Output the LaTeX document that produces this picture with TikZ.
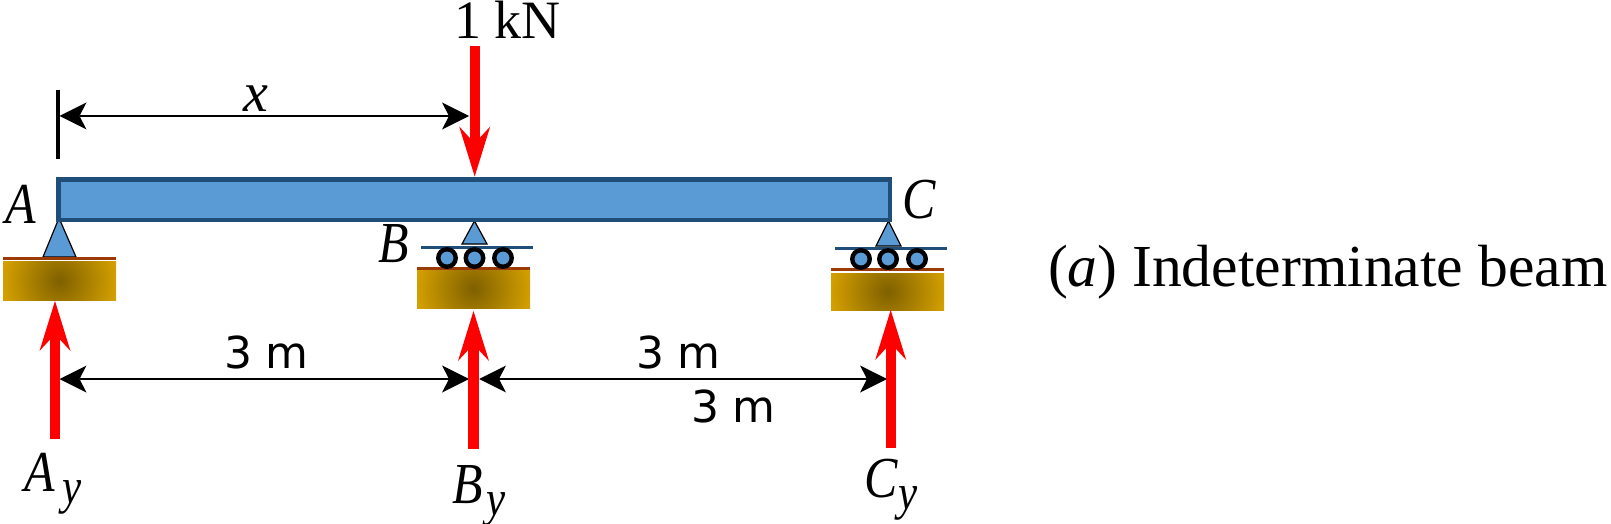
\documentclass[tikz,border=0pt]{standalone}
\usepackage{fontspec}
\setmainfont{Liberation Serif}
\newfontfamily\dejavu{DejaVu Sans}
\newfontfamily\mathfnt[FakeStretch=0.86]{Liberation Serif}
\usetikzlibrary{arrows.meta}
\definecolor{beamfill}{HTML}{5B9BD5}
\definecolor{beamedge}{HTML}{1F4E79}
\definecolor{brownline}{HTML}{9C3A06}
\definecolor{groundlight}{HTML}{D4A000}
\definecolor{grounddark}{HTML}{7F6000}
\newcommand{\groundblock}[4]{%
  \begin{scope}
    \clip (#1,#2) rectangle (#3,#4);
    \shade[inner color=grounddark,outer color=groundlight]
      ({(#1+#3)/2-58},{(#2+#4)/2-58}) rectangle ({(#1+#3)/2+58},{(#2+#4)/2+58});
  \end{scope}}
\tikzset{
  lbl/.style={inner sep=0pt,outer sep=0pt,anchor=base west,text=black},
  mathbig/.style={lbl,font=\fontsize{29}{29}\selectfont\mathfnt\itshape},
  mathsub/.style={lbl,font=\fontsize{25}{25}\selectfont\mathfnt\itshape},
  dimtext/.style={lbl,font=\fontsize{22}{22}\selectfont\dejavu},
  serif/.style={lbl,font=\fontsize{29.8}{29.8}\selectfont},
  redarrow/.style={draw=red,line width=5.2pt,-{Stealth[length=25pt,width=15.5pt,inset=8.4pt,line width=0pt]},fill=red},
  dimarrow/.style={draw=black,line width=1.35pt,{Stealth[length=13.5pt,width=13.5pt,inset=3.5pt,line width=0pt]}-{Stealth[length=13.5pt,width=13.5pt,inset=3.5pt,line width=0pt]}},
  support/.style={draw=black,line width=.6pt,fill=beamfill,line join=miter},
  roller/.style={circle,draw=black,fill=beamfill,line width=2.2pt,minimum size=17.5*.5pt,inner sep=0pt},
  plate/.style={draw=beamedge,line width=1.5pt},
  brown/.style={draw=brownline,line width=1.5pt},
  beambox/.style={draw=beamedge,fill=beamfill,line width=2.2pt,inner sep=0pt,minimum width=415.7pt,minimum height=20.2pt},
}
\begin{document}
\begin{tikzpicture}[x=.5pt,y=-.5pt]
\useasboundingbox (0,0) rectangle (1611,524);
% coordinates
\coordinate (tickT) at (58,90); \coordinate (tickB) at (58,159);
\coordinate (xL) at (59.5,116); \coordinate (xR) at (469,116);
\coordinate (loadT) at (474.7,46); \coordinate (loadB) at (474.7,176.5);
\coordinate (AT) at (55,301); \coordinate (AB) at (55,439);
\coordinate (BT) at (473.5,311); \coordinate (BB) at (473.5,449);
\coordinate (CT) at (890.7,310); \coordinate (CB) at (890.7,448);
\coordinate (d1L) at (59.5,379); \coordinate (d1R) at (469,379);
\coordinate (d2L) at (479,379); \coordinate (d2R) at (887,379);
% supports
\draw[support] (59,218) -- (76,257) -- (43,257) -- cycle;
\draw[support] (474.5,221) -- (487,244) -- (462,244) -- cycle;
\draw[support] (888.5,221) -- (901,246) -- (876,246) -- cycle;
% beam
\node[beambox] (beam) at (474,199.5) {};
% ground
\groundblock{3}{261}{116}{300}
\groundblock{417}{269}{530}{308}
\groundblock{831}{273}{944}{310}
\draw[brown] (3,258.5) -- (116,258.5);
\draw[brown] (417,268) -- (530,268);
\draw[brown] (831,269.5) -- (944,269.5);
% plates and rollers
\draw[plate] (421,247.5) -- (533,247.5);
\draw[plate] (835,248.5) -- (947,248.5);
\node[roller] (r1) at (447,258) {};
\node[roller] (r2) at (474.5,258) {};
\node[roller] (r3) at (503,258) {};
\node[roller] (r4) at (861,259) {};
\node[roller] (r5) at (888,259) {};
\node[roller] (r6) at (917,259) {};
% dimension lines
\draw[line width=1.75pt] (tickT) -- (tickB);
\draw[dimarrow] (xL) -- (xR);
\draw[dimarrow] (d1L) -- (d1R);
\draw[dimarrow] (d2L) -- (d2R);
% forces
\draw[redarrow] (loadT) -- (loadB);
\draw[redarrow] (AB) -- (AT);
\draw[redarrow] (BB) -- (BT);
\draw[redarrow] (CB) -- (CT);
% labels
\node[lbl,font=\fontsize{27}{27}\selectfont] (load) at (454,39) {1 kN};
\node[lbl,font=\fontsize{28}{28}\selectfont\itshape] (lx) at (243,112) {x};
\node[mathbig] (la) at (5,223) {A};
\node[mathbig] (lb) at (378,262) {B};
\node[mathbig] (lc) at (902,218) {C};
\node[mathbig] (lay) at (25,491) {A};
\node[mathsub] (lays) at (62,503) {y};
\node[mathbig] (lby) at (452,503) {B};
\node[mathsub] (lbys) at (486,515) {y};
\node[mathbig] (lcy) at (864,497) {C};
\node[mathsub] (lcys) at (898,509) {y};
\node[dimtext] (m1) at (224,368) {3 m};
\node[dimtext] (m2) at (636,368) {3 m};
\node[dimtext] (m3) at (691,422) {3 m};
\node[serif] (cap) at (1048,286) {(\textit{a}) Indeterminate beam};
\end{tikzpicture}
\end{document}
